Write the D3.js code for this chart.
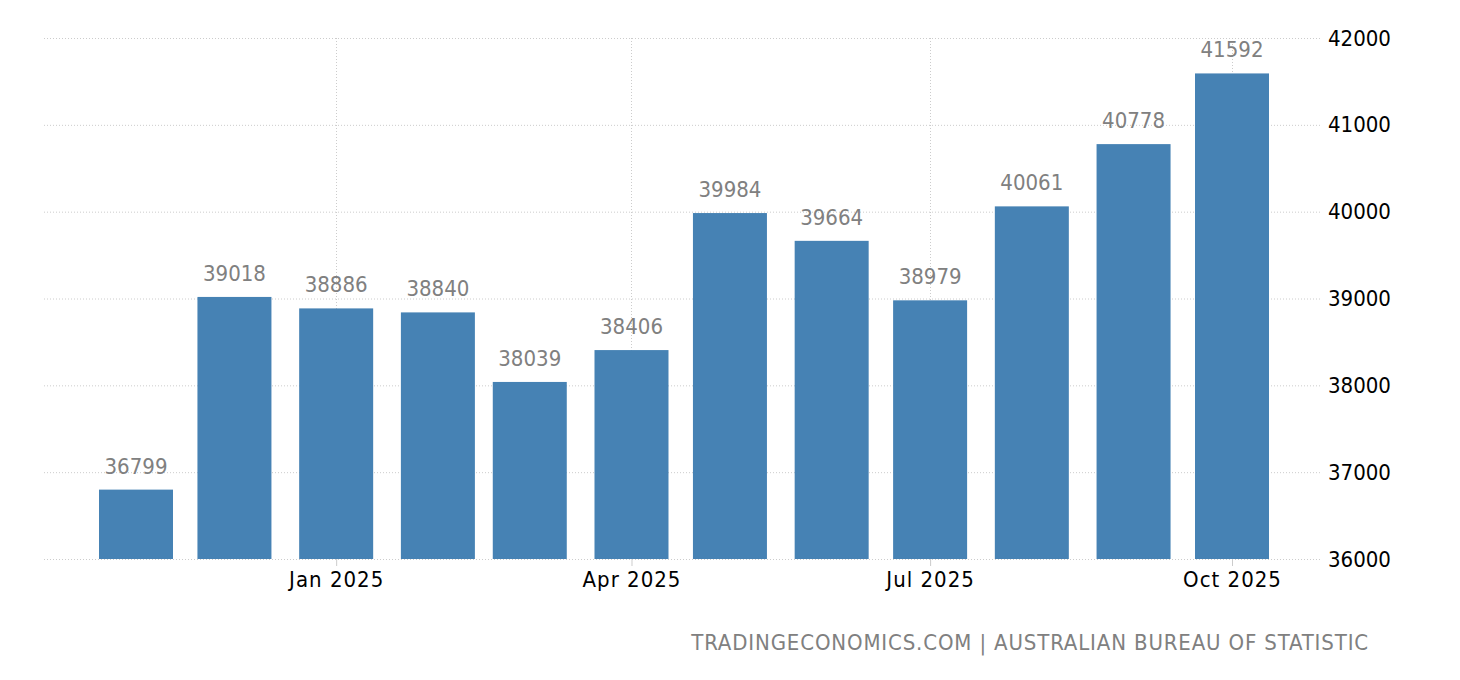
<!DOCTYPE html>
<html>
<head>
  <meta charset="UTF-8">
  <style>
    body { margin: 0; background-color: #fff; }
    svg text { font-family: "DejaVu Sans Condensed", "DejaVu Sans", sans-serif; }
  </style>
</head>
<body>
<svg></svg>
<script src="https://d3js.org/d3.v7.min.js"></script>
<script>

let width = 1460, height = 680;
let svg = d3.select("svg")
    .attr("width", width)
    .attr("height", height)

// monthly values, Nov 2024 .. Oct 2025
var months = ["2024-11", "2024-12", "2025-01", "2025-02", "2025-03", "2025-04",
              "2025-05", "2025-06", "2025-07", "2025-08", "2025-09", "2025-10"];
var values = [36799, 39018, 38886, 38840, 38039, 38406,
              39984, 39664, 38979, 40061, 40778, 41592];
var xTicks = ["2025-01", "2025-04", "2025-07", "2025-10"];
var yTicks = [36000, 37000, 38000, 39000, 40000, 41000, 42000];

var parse = d3.timeParse("%Y-%m");

var x = d3.scaleTime()
    .domain([parse("2024-11"), parse("2025-10")])
    .range([136, 1232]);

var y = d3.scaleLinear()
    .domain([36000, 42000])
    .range([559, 38]);

var barW = 74;

// horizontal grid
svg.append("g")
    .selectAll("line")
    .data(yTicks)
    .enter()
    .append("line")
    .attr("x1", 44).attr("x2", 1322)
    .attr("y1", d => y(d) + 0.5).attr("y2", d => y(d) + 0.5)
    .attr("stroke", "#cccccc")
    .attr("stroke-dasharray", "1,2");

// vertical grid
svg.append("g")
    .selectAll("line")
    .data(xTicks)
    .enter()
    .append("line")
    .attr("x1", d => Math.round(x(parse(d))) + 0.5).attr("x2", d => Math.round(x(parse(d))) + 0.5)
    .attr("y1", y(42000)).attr("y2", y(36000))
    .attr("stroke", "#cccccc")
    .attr("stroke-dasharray", "1,2");

// bars
svg.append("g")
    .selectAll("rect")
    .data(values)
    .enter()
    .append("rect")
    .attr("x", (d, i) => x(parse(months[i])) - barW / 2)
    .attr("width", barW)
    .attr("y", d => y(d))
    .attr("height", d => y(36000) - y(d))
    .attr("fill", "#4682b4");

// value labels
svg.append("g")
    .selectAll("text")
    .data(values)
    .enter()
    .append("text")
    .attr("x", (d, i) => x(parse(months[i])))
    .attr("y", d => y(d) - 16)
    .attr("text-anchor", "middle")
    .style("font-size", "22px")
    .attr("fill", "#808080")
    .text(d => d);

// x axis
var xAxis = svg.append("g")
    .attr("transform", "translate(0," + y(36000) + ")")
    .call(d3.axisBottom(x)
        .tickValues(xTicks.map(parse))
        .tickFormat(d3.timeFormat("%b %Y"))
        .tickSize(7)
        .tickPadding(5));
xAxis.select(".domain").remove();
xAxis.selectAll(".tick line").attr("stroke", "#cccccc");
xAxis.selectAll(".tick text").style("font-size", "22px").style("letter-spacing", "1px").attr("fill", "#000");

// y axis on the right
var yAxis = svg.append("g")
    .attr("transform", "translate(1322,0)")
    .call(d3.axisRight(y)
        .tickValues(yTicks)
        .tickFormat(d3.format("d"))
        .tickSize(0)
        .tickPadding(6));
yAxis.select(".domain").remove();
yAxis.selectAll(".tick text").style("font-size", "22px").attr("fill", "#000");

// source
svg.append("text")
    .attr("x", 1369).attr("y", 650)
    .attr("text-anchor", "end")
    .style("font-size", "22px")
    .style("letter-spacing", "0.85px")
    .attr("fill", "#808080")
    .text("TRADINGECONOMICS.COM | AUSTRALIAN BUREAU OF STATISTIC");

</script>
</body>
</html>
